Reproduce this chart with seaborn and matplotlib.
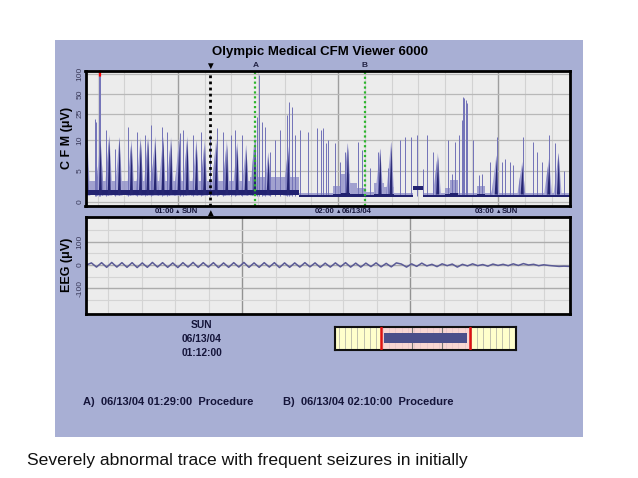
import numpy as np
import matplotlib
matplotlib.use("Agg")
import matplotlib.pyplot as plt
import matplotlib.transforms as mtrans
from matplotlib.patches import Rectangle
import seaborn as sns

# ---------------- data ----------------
# CFM time axis: minutes after 00:00 (06/13/04)
cfm_xlim = (25.4, 206.8)
hour_ticks = [60, 120, 180]
hour_left = ["01:00", "02:00", "03:00"]
hour_right = ["SUN", "06/13/04", "SUN"]
cfm_yticks = [0, 5, 10, 25, 50, 100]
cfm_ylim = (-0.65, 113)

# seizure teeth: time (min) and peak amplitude (uV)
tooth_t = [26.2, 31.2, 34.5, 38.3, 42.8, 46.2, 49.0, 51.7, 54.6, 57.6,
           60.6, 63.7, 67.1, 70.2, 74.5, 78.5, 82.4, 85.7, 89.0, 94.0,
           101.5, 123.8, 135.9, 140.0, 157.5, 179.4, 189.1, 199.1, 202.7]
tooth_peak = [11, 11, 12, 11, 10, 11, 11, 11.5, 11, 11,
              11, 11.5, 10, 10, 10.4, 10, 9.7, 9.2, 12, 8,
              9, 9.5, 8.6, 9.7, 7.9, 7.5, 6.5, 7, 7.9]

# thin spikes: time (min) and top (uV)
spike_t = [25.7, 28.9, 29.5, 30.5, 31.0, 33.0, 36.5, 41.2, 44.5, 47.8,
           50.1, 53.9, 56.0, 60.7, 62.0, 65.5, 68.5, 72.0, 74.5, 77.0,
           80.0, 81.3, 84.0, 89.6, 90.3, 91.5, 92.5, 94.5, 96.5, 98.2,
           101.0, 101.7, 102.6, 104.0, 105.7, 108.6, 112.2, 113.4, 114.4, 115.4,
           116.3, 118.8, 120.7, 122.5, 127.5, 128.8, 131.9, 135.0, 138.8, 143.1,
           145.0, 147.2, 149.6, 151.8, 153.1, 155.6, 161.2, 162.5, 163.7, 165.4,
           166.3, 166.6, 167.2, 167.9, 168.4, 170.6, 172.7, 173.7, 176.9, 179.4,
           181.3, 182.5, 184.3, 185.6, 189.1, 192.8, 194.6, 196.2, 199.1, 201.2,
           204.5]
spike_top = [17, 21, 19, 120, 120, 14, 8.5, 16, 13, 12,
             17, 16, 13, 12.6, 14, 12, 13, 12, 15, 13,
             12, 14, 12, 22, 95, 19, 16, 8, 10, 14,
             24, 38, 32, 12, 14, 13, 15, 14, 15, 9.5,
             10, 9.5, 6.5, 8, 9.7, 8.4, 5.5, 8, 5.5, 10,
             11, 11, 12, 5.3, 12, 8.1, 10, 4.5, 9.7, 12,
             20, 45, 43, 40, 36, 10, 4.3, 4.5, 6.5, 11,
             6.5, 7, 6.5, 6, 11, 9.7, 8.1, 6.5, 12, 9.5,
             5]

# baseline band (step segments): start time, lower margin, dark top, light top
band_t = [25.4, 87.0, 105.5, 118.0, 121.0, 124.5, 127.0, 130.5, 133.5, 137.0,
          141.0, 148.0, 151.7, 160.0, 162.0, 165.0, 172.0, 175.0, 206.8]
band_lo = [1.1, 1.2, 0.85, 0.85, 0.85, 0.85, 0.85, 0.85, 0.85, 0.85,
           0.85, 1.9, 0.85, 0.85, 0.85, 0.85, 0.85, 0.85, 0.85]
band_hi = [1.9, 2.0, 1.2, 1.3, 1.4, 1.3, 1.3, 1.2, 1.3, 1.3,
           1.2, 2.6, 1.2, 1.3, 1.4, 1.2, 1.3, 1.2, 1.2]
fuzz_hi = [3.4, 4.0, 1.5, 2.5, 4.5, 3.0, 2.2, 1.6, 3.0, 2.4,
           1.5, 2.6, 1.5, 2.2, 3.5, 1.5, 2.6, 1.5, 1.5]

cursor_t = 72          # 01:12:00
event_t = [89, 130]    # A 01:29:00, B 02:10:00
event_lbl = ["A", "B"]

# EEG segment (seconds) and amplitude (uV), peaks/troughs
eeg_xlim = (0.063, 2.955)
eeg_yticks = [-100, 0, 100]
eeg_ylim = (-210, 207)
eeg_v = [0, 9, -9, 10, -10, 11, -9, 10, -10, 10, -11, 9, -10, 11, -9, 10, -10, 9, -11, 10,
         -9, 11, -10, 10, -9, 10, -11, 9, -10, 10, -9, 11, -10, 9, -10, 10, -9, 10, -11, 9,
         -10, 9, -9, 10, -8, 9, -10, 8, -9, 9, -8, 10, -9, 8, -9, 8, -7, 9, -8, 7,
         -8, 9, 4, -9, 5, -6, 8, -4, 3, -7, 5, -3, 4, -9, 3, -4, 5, -3, 2, -5,
         4, -2, 3, -3, 5, -2, 6, 0, 3, -3, 1, -2, -4, -6, -5, -6]

# navigation bar (hours)
nav_lim = (-1.12, 5.0)
nav_window = (0.423, 3.447)
nav_thumb = (0.54, 3.34)
nav_major = [1.5, 2.5]

title = "Olympic Medical CFM Viewer 6000"
cursor_lines = ["SUN", "06/13/04", "01:12:00"]
event_text = ["A)  06/13/04 01:29:00  Procedure", "B)  06/13/04 02:10:00  Procedure"]
caption = "Severely abnormal trace with frequent seizures in initially"

# ---------------- style ----------------
sns.set_style("white")
plt.rcParams['font.family'] = ['Liberation Sans', 'DejaVu Sans']

W, H = 638, 478
def fx(x): return x / W
def fy(y): return 1 - y / H

PANEL = '#a8afd4'
NAVY = '#222270'
TXT = '#15153a'

fig = plt.figure(figsize=(W / 100, H / 100), dpi=100)
fig.patch.set_facecolor('white')
fig.patches.append(Rectangle((fx(55), fy(437)), fx(583) - fx(55), fy(40) - fy(437),
                             transform=fig.transFigure, facecolor=PANEL,
                             edgecolor='none', zorder=-1))

K = 66 / 6.2
def fwd(y):
    y = np.asarray(y, dtype=float)
    return np.where(y <= 10, y, 10 + K * np.log10(np.maximum(y, 1e-9) / 10))
def inv(v):
    v = np.asarray(v, dtype=float)
    return np.where(v <= 10, v, 10 * 10 ** ((np.minimum(v, 60) - 10) / K))

ax1 = fig.add_axes([fx(85.5), fy(206), fx(570) - fx(85.5), fy(70.5) - fy(206)])
ax2 = fig.add_axes([fx(85.5), fy(314), fx(570) - fx(85.5), fy(216.7) - fy(314)])

for ax in (ax1, ax2):
    ax.set_facecolor('#ececec')
    for s in ax.spines.values():
        s.set_linewidth(2.0)
        s.set_color('black')
        s.set_zorder(20)
    ax.tick_params(length=0)
    ax.set_axisbelow(True)

# ---- CFM panel ----
ax1.set_yscale('function', functions=(fwd, inv))
ax1.set_xlim(cfm_xlim)
ax1.set_ylim(cfm_ylim)
ax1.set_xticks(hour_ticks)
ax1.set_xticks(np.arange(30, cfm_xlim[1], 10), minor=True)
ax1.set_xticklabels([])
ax1.set_yticks(cfm_yticks)
ax1.set_yticks([], minor=True)
ax1.set_yticklabels([str(v) for v in cfm_yticks], rotation=90, va='center',
                    fontsize=6, color='#3a3a5a')
ax1.tick_params(axis='y', pad=1.5)
ax1.grid(which='minor', axis='x', color='#d2d2d2', lw=0.8)
ax1.grid(which='major', axis='x', color='#9e9e9e', lw=1.0)
ax1.grid(which='major', axis='y', color='#b8b8b8', lw=0.9)

# light fuzz above the baseline
ax1.fill_between(band_t, band_lo, fuzz_hi, step='post', color='#8e8ec8', lw=0,
                 alpha=0.8, zorder=2)
# tooth halos (vertical hatching imitates the dense CFM strokes)
for t, p in zip(tooth_t, tooth_peak):
    ax1.fill([t - 2.1, t - 0.15, t + 1.0], [1.0, p, 1.0], facecolor='#a6a6d6',
             edgecolor='#7a7abb', hatch='|||', lw=0, zorder=2.5)
ax1.vlines(spike_t, 1.0, spike_top, color='#7272b8', lw=0.7, zorder=3)
ax1.fill_between(band_t, band_lo, band_hi, step='post', color=NAVY, lw=0, zorder=4)
for t, p in zip(tooth_t, tooth_peak):
    ax1.fill([t - 0.8, t - 0.05, t + 0.35], [1.2, p * 0.92, 1.2], color='#262672',
             lw=0, zorder=4.5)

clip_t = [t for t, v in zip(spike_t, spike_top) if v > cfm_ylim[1]]
ax1.plot(clip_t, [cfm_ylim[1] * 0.93] * len(clip_t), ls='none', marker='|',
         ms=4, mew=0.9, color='red', zorder=6, clip_on=False)

ax1.axvline(cursor_t, color='black', ls=(0, (1, 1.2)), lw=2.0, zorder=7)
for t in event_t:
    ax1.axvline(t, color='#2cb52c', ls=(0, (1, 1.2)), lw=1.6, zorder=7)

bt = mtrans.blended_transform_factory(ax1.transData, ax1.transAxes)
ax1.text(cursor_t, 1.0, '▼', transform=bt, ha='center', va='bottom', fontsize=7,
         color='black', zorder=8)
ax1.text(cursor_t, -0.052, '▲', transform=bt, ha='center', va='center', fontsize=7,
         color='black', clip_on=False)
for t, l in zip(event_t, event_lbl):
    ax1.text(t, 1.01, l, transform=bt, ha='center', va='bottom', fontsize=6,
             fontweight='bold', color='#222244')
for t, l, r in zip(hour_ticks, hour_left, hour_right):
    ax1.text(t, -0.042, '▲', transform=bt, ha='center', va='center', fontsize=4,
             color=TXT)
    ax1.annotate(l, xy=(t, -0.042), xycoords=bt, xytext=(-2.8, 0),
                 textcoords='offset points', ha='right', va='center',
                 fontsize=5.6, fontweight='bold', color=TXT)
    ax1.annotate(r, xy=(t, -0.042), xycoords=bt, xytext=(2.8, 0),
                 textcoords='offset points', ha='left', va='center',
                 fontsize=5.6, fontweight='bold', color=TXT)

# ---- EEG panel ----
eeg_t = np.linspace(eeg_xlim[0] + 0.005, eeg_xlim[1] - 0.005, len(eeg_v))
ax2.set_xlim(eeg_xlim)
ax2.set_ylim(eeg_ylim)
ax2.set_xticks([1, 2])
ax2.set_xticks(np.arange(0.2, eeg_xlim[1], 0.2), minor=True)
ax2.set_xticklabels([])
ax2.set_yticks(eeg_yticks)
ax2.set_yticks([-150, -50, 50, 150], minor=True)
ax2.set_yticklabels([str(v) for v in eeg_yticks], rotation=90, va='center',
                    fontsize=6, color='#3a3a5a')
ax2.tick_params(axis='y', pad=1.5)
ax2.tick_params(which='minor', length=0)
ax2.grid(which='minor', color='#d4d4d4', lw=0.8)
ax2.grid(which='major', axis='x', color='#929292', lw=1.0)
ax2.grid(which='major', axis='y', color='#acacac', lw=1.0)
sns.lineplot(x=eeg_t, y=eeg_v, ax=ax2, color='#5a5a96', lw=1.1, zorder=5)

# ---- labels / texts ----
fig.text(fx(320), fy(52), title, ha='center', va='center', fontsize=9.5,
         fontweight='bold', color='black')
fig.text(fx(67), fy(138), "C F M (μV)", ha='center', va='center', rotation=90,
         fontsize=9, fontweight='bold', color='black')
fig.text(fx(67), fy(265), "EEG (μV)", ha='center', va='center', rotation=90,
         fontsize=9, fontweight='bold', color='black')
for i, line in enumerate(cursor_lines):
    fig.text(fx(202), fy(325 + 13.8 * i), line, ha='center', va='center',
             fontsize=7.4, fontweight='bold', color=TXT)
fig.text(fx(83), fy(402), event_text[0], ha='left', va='center', fontsize=8.0,
         fontweight='bold', color=TXT)
fig.text(fx(283), fy(402), event_text[1], ha='left', va='center', fontsize=8.0,
         fontweight='bold', color=TXT)
fig.text(fx(27), fy(461), caption, ha='left', va='center', fontsize=12.6,
         color='#111111')

# ---- navigation bar ----
axn = fig.add_axes([fx(335), fy(350), fx(516) - fx(335), fy(326.7) - fy(350)])
axn.set_facecolor('#ffffcc')
axn.set_xlim(nav_lim)
axn.set_ylim(0, 1)
axn.set_xticks(np.arange(-1.0, nav_lim[1], 0.213))
axn.grid(axis='x', color='#b8b8a8', lw=0.6)
axn.set_xticks([], minor=True)
axn.set_yticks([])
axn.set_xticklabels([])
axn.tick_params(length=0)
axn.set_axisbelow(True)
axn.axvspan(*nav_window, color='#f7ccd4', alpha=0.8, lw=0, zorder=1)
for v in nav_major:
    axn.axvline(v, color='#777777', lw=0.8, zorder=2)
axn.axvspan(*nav_thumb, ymin=0.29, ymax=0.74, color='#4b4f8a', lw=0, zorder=3)
for v in nav_window:
    axn.axvline(v, color='#dd1111', lw=1.8, zorder=4)
for s in axn.spines.values():
    s.set_linewidth(1.5)
    s.set_color('#111111')

fig.savefig('out.png', dpi=100)
